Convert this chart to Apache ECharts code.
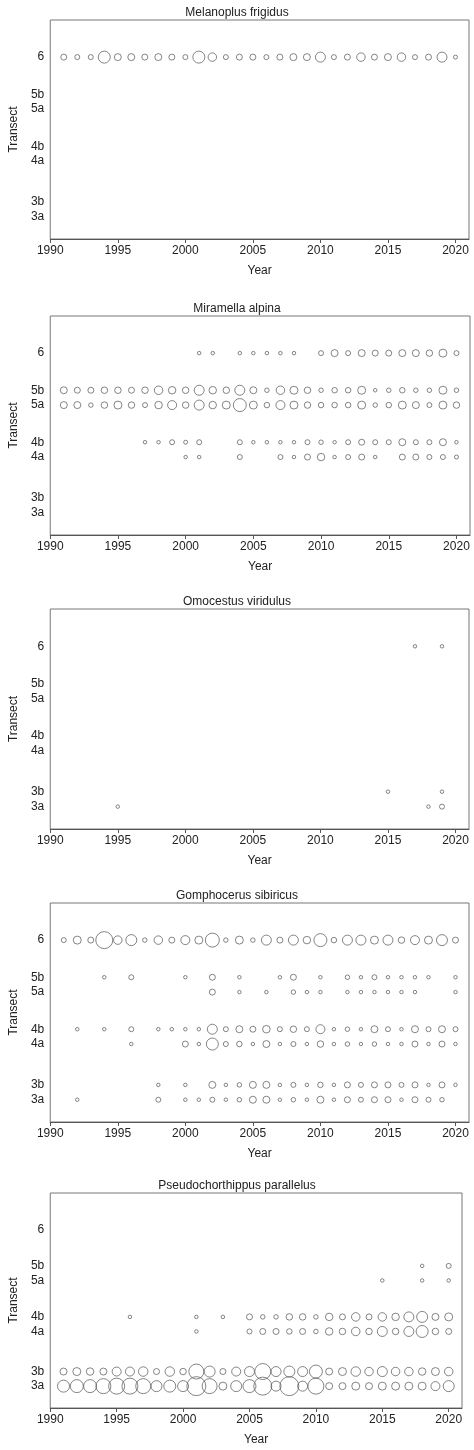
<!DOCTYPE html>
<html><head><meta charset="utf-8">
<script src="https://cdn.jsdelivr.net/npm/echarts@6/dist/echarts.min.js"></script>
<style>html,body{margin:0;padding:0;background:#fff}#c{width:474px;height:1450px}</style>
</head><body><div id="c"></div>
<script>
const titles = ['Melanoplus frigidus','Miramella alpina','Omocestus viridulus','Gomphocerus sibiricus','Pseudochorthippus parallelus'];
const transects = ['6','5b','5a','4b','4a','3b','3a'];
const transectPos = [10.75, 8.25, 7.25, 4.75, 3.75, 1, 0];
const xTicks = [1990,1995,2000,2005,2010,2015,2020];

// Each entry: [year, abundance index]
const melanoplus = {
 '6': [[1991,6],[1992,5],[1993,5],[1994,12],[1995,7],[1996,7],[1997,6],[1998,7],[1999,6],[2000,5],[2001,12],[2002,8.5],[2003,5],[2004,6],[2005,6],[2006,5],[2007,6],[2008,7],[2009,7],[2010,10],[2011,5],[2012,6],[2013,8.5],[2014,6],[2015,7],[2016,8.5],[2017,5],[2018,6],[2019,10],[2020,4]]
};
const miramella = {
 '6': [[2001,3.5],[2002,3.5],[2004,3.5],[2005,3.5],[2006,3.5],[2007,3.5],[2008,3.5],[2010,5],[2011,7],[2012,5],[2013,7],[2014,6],[2015,6],[2016,7],[2017,7],[2018,6.5],[2019,8],[2020,5]],
 '5b': [[1991,7],[1992,6],[1993,6],[1994,6.5],[1995,6.5],[1996,6],[1997,6.5],[1998,8.5],[1999,7.5],[2000,6.5],[2001,10],[2002,7.5],[2003,6.5],[2004,10],[2005,7],[2006,4.5],[2007,8.5],[2008,8],[2009,6.5],[2010,4.5],[2011,5.5],[2012,5.5],[2013,8],[2014,3.5],[2015,4.5],[2016,5.5],[2017,4.5],[2018,4.5],[2019,8],[2020,4.5]],
 '5a': [[1991,7],[1992,7],[1993,4.5],[1994,6.5],[1995,8],[1996,6.5],[1997,5],[1998,7.5],[1999,9],[2000,6.5],[2001,10],[2002,7.5],[2003,8],[2004,13],[2005,8],[2006,5.5],[2007,9],[2008,8],[2009,6.5],[2010,5.5],[2011,5.5],[2012,5.5],[2013,8],[2014,4.5],[2015,5.5],[2016,8],[2017,7],[2018,5],[2019,8],[2020,6.5]],
 '4b': [[1997,3.5],[1998,3.5],[1999,5],[2000,4],[2001,5],[2004,5],[2005,3.5],[2006,3.5],[2007,3.5],[2008,3.5],[2009,5],[2010,4.5],[2011,3.5],[2012,5],[2013,6],[2014,5],[2015,5],[2016,7],[2017,5],[2018,5],[2019,7],[2020,3.5]],
 '4a': [[2000,3.5],[2001,3.5],[2004,5],[2007,5],[2008,3.5],[2009,6],[2010,7.5],[2011,3.5],[2012,5],[2013,6],[2014,3.5],[2016,6],[2017,6],[2018,5],[2019,5],[2020,4]]
};
const omocestus = {
 '6': [[2017,3.5],[2019,3.5]],
 '3b': [[2015,3.5],[2019,3.5]],
 '3a': [[1995,3.5],[2018,3.5],[2019,5]]
};
const gomphocerus = {
 '6': [[1991,5],[1992,8],[1993,6],[1994,17],[1995,8.5],[1996,11],[1997,4.5],[1998,8.5],[1999,6],[2000,9],[2001,8],[2002,14],[2003,4.5],[2004,8],[2005,4.5],[2006,10],[2007,6],[2008,10],[2009,7.5],[2010,13],[2011,5.5],[2012,10],[2013,10],[2014,8],[2015,10],[2016,6.5],[2017,9],[2018,8],[2019,11],[2020,6]],
 '5b': [[1994,3.5],[1996,5],[2000,3.5],[2002,6],[2004,3.5],[2007,3.5],[2008,6],[2010,3.5],[2012,4.5],[2013,3.5],[2014,5],[2015,3.5],[2016,3.5],[2017,3.5],[2018,3.5],[2020,3.5]],
 '5a': [[2002,6],[2004,3.5],[2006,3.5],[2008,4.5],[2009,3.5],[2010,3.5],[2012,3.5],[2013,3.5],[2014,3.5],[2015,3.5],[2016,3.5],[2017,3.5],[2020,3.5]],
 '4b': [[1992,3.5],[1994,3.5],[1996,5],[1998,3.5],[1999,3.5],[2000,3.5],[2001,3.5],[2002,10],[2003,5],[2004,7],[2005,6],[2006,7.5],[2007,5],[2008,6.5],[2009,5],[2010,9],[2011,3.5],[2012,4.5],[2013,3.5],[2014,7],[2015,5],[2016,3.5],[2017,7],[2018,5],[2019,7],[2020,5]],
 '4a': [[1996,3.5],[2000,6],[2001,3.5],[2002,12],[2003,5],[2004,5.5],[2005,3.5],[2006,7],[2007,3.5],[2008,5],[2009,3.5],[2010,6.5],[2011,3.5],[2012,4.5],[2013,3.5],[2014,4.5],[2015,3.5],[2016,3.5],[2017,6],[2018,3.5],[2019,6],[2020,3.5]],
 '3b': [[1998,3.5],[2000,3.5],[2002,7],[2003,3.5],[2004,4.5],[2005,7],[2006,7],[2007,3.5],[2008,5],[2009,3.5],[2010,5.5],[2011,3.5],[2012,6],[2013,5],[2014,6],[2015,6],[2016,5],[2017,6],[2018,3.5],[2019,6],[2020,3.5]],
 '3a': [[1992,3.5],[1998,5],[2000,3.5],[2001,3.5],[2002,5],[2003,3.5],[2004,4.5],[2005,7],[2006,7],[2007,3.5],[2008,4.5],[2009,3.5],[2010,7],[2011,3.5],[2012,6],[2013,5],[2014,6],[2015,6],[2016,3.5],[2017,6],[2018,5],[2019,4.5]]
};
const pseudochorthippus = {
 '5b': [[2018,3.5],[2020,5]],
 '5a': [[2015,3.5],[2018,3.5],[2020,3.5]],
 '4b': [[1996,3.5],[2001,3.5],[2003,3.5],[2005,6],[2006,4.5],[2007,4.5],[2008,6.5],[2009,6.5],[2010,4.5],[2011,7.5],[2012,6],[2013,8.5],[2014,6],[2015,8.5],[2016,7.5],[2017,10],[2018,11],[2019,7],[2020,8]],
 '4a': [[2001,3.5],[2005,5],[2006,6],[2007,6],[2008,5.5],[2009,6],[2010,4.5],[2011,7.5],[2012,6.5],[2013,8.5],[2014,6.5],[2015,10],[2016,6.5],[2017,10],[2018,12],[2019,6.5],[2020,6]],
 '3b': [[1991,7],[1992,8],[1993,7.5],[1994,7],[1995,9],[1996,9],[1997,9.5],[1998,6],[1999,9.5],[2000,6.5],[2001,15],[2002,11],[2003,6],[2004,9],[2005,10],[2006,16],[2007,10],[2008,11],[2009,10],[2010,13],[2011,7],[2012,8],[2013,9.5],[2014,8.5],[2015,10],[2016,8.5],[2017,8.5],[2018,7.5],[2019,8],[2020,8.5]],
 '3a': [[1991,12],[1992,13],[1993,13],[1994,15],[1995,16],[1996,16],[1997,15],[1998,11],[1999,12],[2000,11],[2001,19],[2002,15],[2003,8],[2004,11],[2005,13],[2006,18],[2007,10],[2008,19],[2009,10],[2010,16],[2011,7],[2012,7],[2013,8],[2014,7],[2015,8],[2016,8],[2017,8],[2018,8],[2019,9],[2020,11]]
};
const panels = [melanoplus, miramella, omocestus, gomphocerus, pseudochorthippus];

// layout per panel: [top, bottom, left, right]
const boxes = [[20,239,37,469],[316,535,38,470],[609,829,36,469],[903,1122,36,469],[1193,1408,40,462]];
const font = 'Liberation Sans, Arial, sans-serif';

const grid = [], xAxis = [], yAxis = [], series = [], title = [];
boxes.forEach((b,i)=>{
  grid.push({top:b[0], height:b[1]-b[0], left:b[2], width:b[3]-b[2], show:true, borderColor:'#777', borderWidth:1, backgroundColor:'transparent'});
  title.push({text:titles[i], left:'center', top:b[0]-18, textStyle:{fontFamily:font, fontSize:12, fontWeight:'normal', color:'#222'}});
  xAxis.push({gridIndex:i, type:'value', min:1990, max:2021, interval:5, name:'Year', nameLocation:'middle', nameGap:26,
    nameTextStyle:{fontFamily:font, fontSize:12, color:'#222'},
    axisLine:{onZero:false, lineStyle:{color:'#555'}}, axisTick:{show:true, length:4, lineStyle:{color:'#555'}},
    axisLabel:{fontFamily:font, fontSize:12, color:'#222', margin:6, formatter:v=> xTicks.includes(v)? String(v):'', showMaxLabel:false},
    splitLine:{show:false}});
  yAxis.push({gridIndex:i, type:'value', min:-1.5, max:13.25, interval:0.25, name:'Transect', nameLocation:'middle', nameGap:24,
    nameTextStyle:{fontFamily:font, fontSize:12, color:'#222'},
    axisLine:{show:false, onZero:false}, axisTick:{show:false}, splitLine:{show:false},
    axisLabel:{fontFamily:font, fontSize:12, color:'#222', margin:6,
      formatter:v=>{const k=transectPos.findIndex(p=>Math.abs(p-v)<1e-6); return k>=0?transects[k]:'';}}});
  const data = [];
  transects.forEach((t,k)=>{ (panels[i][t]||[]).forEach(([yr,a])=>data.push([yr, transectPos[k], a])); });
  series.push({type:'scatter', xAxisIndex:i, yAxisIndex:i, data, symbol:'circle', symbolSize:d=>d[2],
    itemStyle:{color:'rgba(0,0,0,0)', borderColor:'#555', borderWidth:0.9}, silent:true, animation:false});
});
const chart = echarts.init(document.getElementById('c'), null, {renderer:'canvas'});
chart.setOption({animation:false, title, grid, xAxis, yAxis, series});
</script></body></html>
